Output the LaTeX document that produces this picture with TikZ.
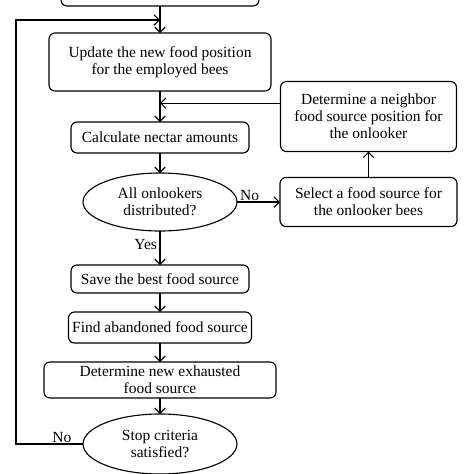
\documentclass[tikz,border=0pt]{standalone}
\usepackage{fontspec}
\setmainfont{Liberation Serif}
\usetikzlibrary{arrows.meta,positioning,shapes.geometric,calc}

\begin{document}
\begin{tikzpicture}[
node distance=0.5cm and 1.075cm,
every node/.style={font=\fontsize{11}{12}\selectfont},
box/.style={draw, rounded corners=1.5mm, align=center, inner sep=1pt, outer sep=0pt, line width=0.8pt},
decision/.style={draw, ellipse, align=center, inner sep=0pt, outer sep=0pt, minimum width=3.85cm, line width=0.8pt},
lbl/.style={inner sep=1pt},
arrow/.style={-{Straight Barb[length=1.3mm,width=2.6mm]}, line width=0.8pt}
]
\path[use as bounding box] (0,0) rectangle (11.85,-11.85);
\clip (0,0) rectangle (11.85,-11.85);

\node[box, minimum width=4.95cm, minimum height=1.2cm] (init) at (4.0,0.45) {};
\node[box, below=0.675cm of init, minimum width=5.55cm, minimum height=1.45cm] (upd) {Update the new food position\\for the employed bees};
\node[box, below=0.775cm of upd, minimum width=4.45cm, minimum height=0.775cm] (calc) {Calculate nectar amounts};
\node[decision, below=of calc, minimum height=1.45cm] (onl) {All onlookers\\distributed?};
\node[box, right=of onl, minimum width=4.425cm, minimum height=1.225cm] (sel) {Select a food source for\\the onlooker bees};
\node[box, above=0.65cm of sel, minimum width=4.4cm, minimum height=1.75cm] (nbr) {Determine a neighbor\\food source position for\\the onlooker};
\node[box, below=0.85cm of onl, minimum width=4.45cm, minimum height=0.7cm] (save) {Save the best food source};
\node[box, below=0.475cm of save, minimum width=4.575cm, minimum height=0.775cm] (find) {Find abandoned food source};
\node[box, below=0.475cm of find, minimum width=5.8cm, minimum height=0.9cm] (exh) {Determine new exhausted\\food source};
\node[decision, below=0.4cm of exh, minimum height=1.5cm] (stop) {Stop criteria\\satisfied?};

\coordinate (jtop) at ($(init.south)!0.52!(upd.north)$);
\coordinate (jmid) at ($(upd.south)!0.39!(calc.north)$);
\coordinate (lft) at (0.4,0);

\draw[arrow] (init) -- (upd);
\draw[arrow] (upd) -- (calc);
\draw[arrow] (jmid -| nbr.west) -- (jmid);
\draw[arrow] (calc) -- (onl);
\draw[arrow] (onl) -- (sel);
\draw[arrow] (sel) -- (nbr);
\draw[arrow] (onl) -- (save);
\draw[arrow] (save) -- (find);
\draw[arrow] (find) -- (exh);
\draw[arrow] (exh) -- (stop);
\draw[arrow] (stop.west) -- (stop.west -| lft) |- (jtop);

\node[lbl, anchor=south west] (no1) at ([xshift=1pt]onl.east) {No};
\node[lbl, left=1pt] (yes) at ($(onl.south)!0.4!(save.north)$) {Yes};
\node[lbl, anchor=south east] (no2) at ([xshift=-0.25cm]stop.west) {No};
\end{tikzpicture}
\end{document}
